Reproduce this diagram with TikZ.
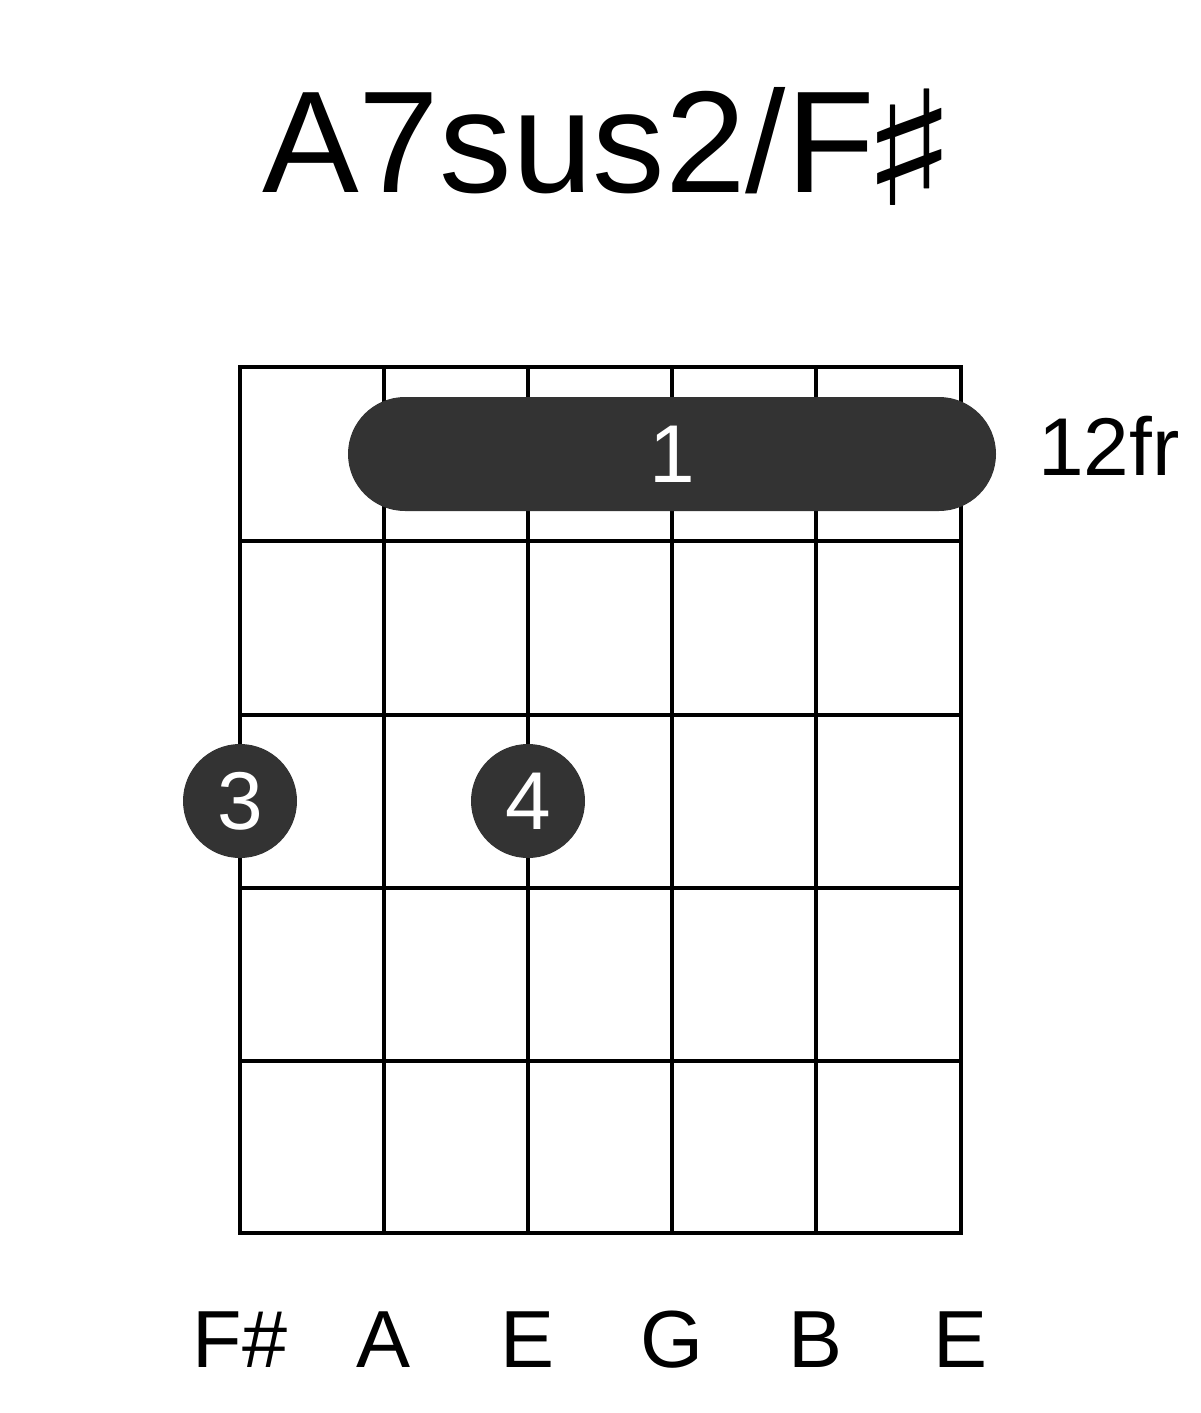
\documentclass[tikz,border=0pt]{standalone}
\usepackage{fontspec}
\usepackage{graphicx}
\setmainfont{Liberation Sans}
\newfontfamily\symfont{DejaVu Sans}
\definecolor{dotgray}{HTML}{333333}
\tikzset{
  gridline/.style={black, line width=4pt},
  finger/.style={circle, fill=dotgray, minimum size=114pt, inner sep=0pt, text=white, font=\fontsize{82}{82}\selectfont},
  notename/.style={anchor=base, inner sep=0pt, font=\fontsize{81}{81}\selectfont}
}
\begin{document}
\begin{tikzpicture}[x=1pt,y=-1pt]
\useasboundingbox (0,0) rectangle (1200,1413);
% title
\node (title) [anchor=base west, inner sep=0pt, font=\fontsize{145}{145}\selectfont] at (262,192) {A7sus2/F\hspace{-14pt}\raisebox{-13pt}{\scalebox{1.4}[1.1]{\symfont ♯}}};
% fretboard
\draw[gridline] (240,367) rectangle (961,1233);
\foreach \x in {384,528,672,816} \draw[gridline] (\x,367) -- (\x,1233);
\foreach \y in {541,715,888,1061} \draw[gridline] (240,\y) -- (961,\y);
% barre and fingers
\node (barre) [fill=dotgray, rounded corners=57pt, minimum width=648pt, minimum height=114pt, inner sep=0pt, text=white, font=\fontsize{82}{82}\selectfont] at (672,454) {1};
\node (fret) [anchor=base west, inner sep=0pt, font=\fontsize{82}{82}\selectfont] at (1038,475) {12fr};
\node (f3) [finger] at (240,801) {3};
\node (f4) [finger] at (528,801) {4};
% string names
\node (s1) [notename] at (240,1367) {F\#};
\node (s2) [notename] at (384,1367) {A};
\node (s3) [notename] at (528,1367) {E};
\node (s4) [notename] at (672,1367) {G};
\node (s5) [notename] at (816,1367) {B};
\node (s6) [notename] at (961,1367) {E};
\end{tikzpicture}
\end{document}
